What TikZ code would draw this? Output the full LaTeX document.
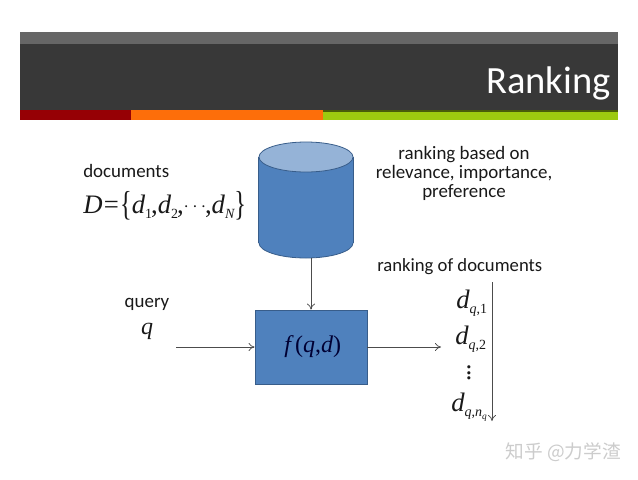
\documentclass[tikz,border=0pt]{standalone}
\usepackage{fontspec}
\setmainfont{Carlito}
\newfontfamily\mathfont{Liberation Serif}
\newfontfamily\cjkfont{Noto Sans CJK SC}
\usetikzlibrary{shapes.geometric, positioning, arrows.meta}
\definecolor{barblue}{RGB}{79,129,189}
\definecolor{lidblue}{RGB}{149,179,215}
\definecolor{edgeblue}{RGB}{56,93,138}
\definecolor{barred}{RGB}{150,0,5}
\definecolor{barorange}{RGB}{253,110,10}
\definecolor{bargreen}{RGB}{156,202,15}
\definecolor{barolive}{RGB}{72,92,10}
\newcommand{\mi}[1]{{\mathfont\itshape #1}}
\newcommand{\subi}[1]{\raisebox{-4pt}{\mathfont\itshape\fontsize{10.5}{10.5}\selectfont #1}}
\newcommand{\subr}[1]{\raisebox{-4pt}{\mathfont\fontsize{10.5}{10.5}\selectfont #1}}
\newcommand{\setbrace}[1]{\raisebox{-1.5pt}{\scalebox{.7}[1]{\fontsize{26}{26}\selectfont #1}}}
\tikzset{
	label/.style={inner sep=0pt, font=\fontsize{14.2}{14.25}\selectfont, text=black!90},
	formula/.style={inner sep=0pt, font=\mathfont\fontsize{20}{20}\selectfont, text=black!90},
	wire/.style={draw=black!70, line width=0.55pt, -{To[length=4.5pt, width=6pt]}},
	dbend/.style={ellipse, draw=edgeblue, line width=0.6pt, minimum width=70.5pt, minimum height=22.5pt, inner sep=0pt}
}
\begin{document}
\begin{tikzpicture}[x=0.75pt, y=-0.75pt]
\useasboundingbox[fill=white] (0,0) rectangle (638,479);
% header
\fill[black!78] (20,44) rectangle (618,110);
\fill[black!60] (20,32) rectangle (618,44);
\fill[barred] (20,110) rectangle (131,120);
\fill[barorange] (131,110) rectangle (323,120);
\fill[barolive] (323,110) rectangle (618,112);
\fill[bargreen] (323,112) rectangle (618,120);
\node[anchor=base east, inner sep=0pt, text=white, font=\fontsize{28.9}{29}\selectfont] (title) at (611,93) {Ranking};
% store and function
\node[dbend, fill=barblue] (dbbase) at (306,243) {};
\fill[barblue] (dbbase.west) rectangle (306+47,157);
\node[dbend, fill=lidblue] (dblid) at (306,157) {};
\draw[draw=edgeblue, line width=0.6pt] (dblid.west) -- (dbbase.west);
\draw[draw=edgeblue, line width=0.6pt] (dblid.east) -- (dbbase.east);
\node[rectangle, draw=edgeblue, line width=0.6pt, fill=barblue, minimum width=84pt, minimum height=55.5pt, inner sep=0pt, font=\mathfont\fontsize{18}{18}\selectfont, text=black!80!blue] (f) at (311,347) {\kern2.5pt\mi{f\,}(\mi{q},\mi{d})};
% left texts
\node[label, anchor=base west] (docs) at (83,177) {documents};
\node[formula, anchor=base west] (dset) at (83,213) {\mi{D}\kern1pt=\kern1pt\setbrace{\{}\mi{d}\subr{1}\kern-.8pt,\mi{d}\subr{2}\kern-.8pt,\raisebox{1pt}{\fontsize{15}{15}\selectfont$\cdots$}\kern-.8pt,\mi{d}\subi{N}\setbrace{\}}};
\node[label, anchor=base] (query) at (147,307) {query};
\node[formula, anchor=base, font=\mathfont\fontsize{18}{18}\selectfont] (q) at (147,334) {\mi{q}};
% right texts
\node[label, align=center, anchor=north] (basis) at (464,146) {ranking based on\\relevance, importance,\\preference};
\node[label, anchor=base west, font=\fontsize{14}{14}\selectfont] (rankof) at (377,271) {ranking of documents};
\node[formula, anchor=base west] (d1) at (456,308) {\mi{d}\subi{q}\subr{,1}};
\node[formula, anchor=base west] (d2) at (455,344) {\mi{d}\subi{q}\subr{,2}};
\node[formula, anchor=center] (dots) at (469,369) {$\vdots$};
\node[formula, anchor=base west] (dn) at (451,411) {\mi{d}\subi{q}\subr{,}\subi{n}\raisebox{-6pt}{\mathfont\itshape\fontsize{7}{7}\selectfont q}};
\node[anchor=base east, inner sep=0pt, text=black!20, font=\cjkfont\fontsize{14}{14}\selectfont] (mark) at (621,458) {知乎 @力学渣};
% connectors
\coordinate (qin) at (176,347);
\coordinate (fout) at (441,347);
\coordinate (ranktop) at (492,282);
\coordinate (rankend) at (492,421);
\draw[wire] (dbbase.south -| f.north) -- (f.north);
\draw[wire] (qin) -- (f.west);
\draw[wire] (f.east) -- (fout);
\draw[wire] (ranktop) -- (rankend);
\end{tikzpicture}
\end{document}
